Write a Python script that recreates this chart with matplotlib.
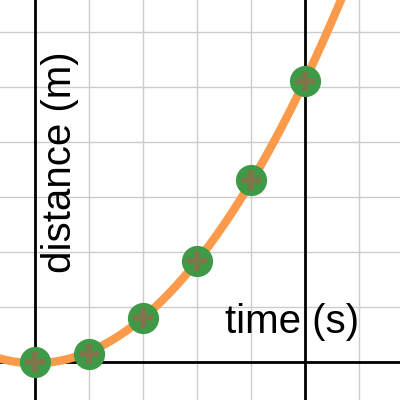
import numpy as np
import matplotlib.pyplot as plt

time_s = [0, 1, 2, 3, 4, 5]
distance_m = [0.0, 0.15, 0.8, 1.84, 3.3, 5.1]

fig = plt.figure(figsize=(4, 4), dpi=100)
ax = fig.add_axes([0, 0, 1, 1])
ax.set_xlim(-0.65, 6.76)
ax.set_ylim(-0.69, 6.58)

for gx in range(0, 7):
    ax.axvline(gx, color="#cccccc", lw=1, zorder=0)
for gy in range(0, 7):
    ax.axhline(gy, color="#cccccc", lw=1, zorder=0)
ax.axvline(0, color="black", lw=2, zorder=1)
ax.axhline(0, color="black", lw=2, zorder=1)
ax.axvline(5, color="black", lw=2, zorder=1)

coef = np.polyfit(time_s, distance_m, 2)
xs = np.linspace(-0.7, 7, 300)
ax.plot(xs, np.polyval(coef, xs), color="#fa9a4a", lw=6, zorder=2, solid_capstyle="round")

ax.scatter(time_s, distance_m, s=460, color="#3f9a48", zorder=3)
ax.scatter(time_s, distance_m, s=200, marker="+", color="#c0504d", linewidths=4, alpha=0.5, zorder=4)

ax.text(4.76, 0.38, "time (s)", fontsize=29, family="Liberation Sans", ha="center", va="bottom")
ax.text(0.46, 3.64, "distance (m)", fontsize=29, family="Liberation Sans", rotation=90, ha="center", va="center")

ax.set_xticks([])
ax.set_yticks([])
for s in ax.spines.values():
    s.set_visible(False)

fig.savefig("out.png", dpi=100)
